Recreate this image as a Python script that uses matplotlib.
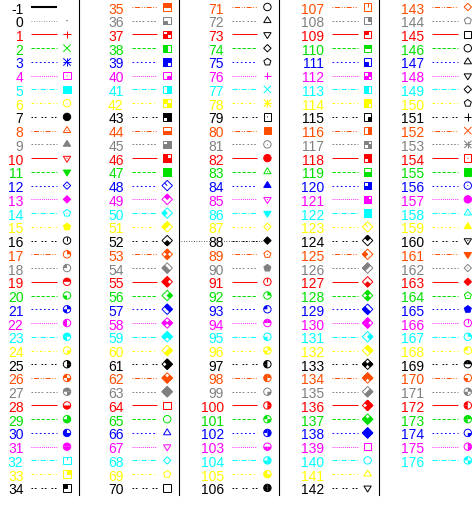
import numpy as np
import matplotlib.pyplot as plt
from matplotlib.patches import Polygon, Circle, Wedge, Rectangle

plt.rcParams['font.family'] = ['Liberation Sans', 'DejaVu Sans']
plt.rcParams['lines.scale_dashes'] = False

# linetypes shown on the test page, 36 per column
linetypes = list(range(-1, 177))
rows_per_col = 36
# colours and dash patterns cycle with period 9 (gnuplot postscript defaults)
line_colors = ['#ff0000', '#00e000', '#0000ff', '#ff00ff', '#00ffff',
               '#ffff00', '#000000', '#ff4d00', '#808080']
dash_patterns = [None, (4, 2), (2, 3), (1, 1.5), (6, 2, 1, 2), (3, 3, 1, 3),
                 (2, 2, 2, 6), (1, 2, 6, 2, 1, 2), (2, 2, 2, 2, 2, 2, 2, 4)]
# row whose dotted line runs back into the previous column
long_dotted_lt = 88

W, H = 477, 506
col_w = 100.2
row_h = 13.74
top = 8.0
s = 3.7          # point size (half width, px)
plw = 0.7        # point outline width
dash_u = 0.6     # dash unit, pt

fig = plt.figure(figsize=(W / 100, H / 100), dpi=100)
ax = fig.add_axes([0, 0, 1, 1])
ax.set_xlim(0, W)
ax.set_ylim(H, 0)
ax.axis('off')


def poly(x, y, pts, color, fill=False):
    xy = [(x + px, y - py) for px, py in pts]
    ax.add_patch(Polygon(xy, closed=True, fill=fill,
                         facecolor=color if fill else 'none',
                         edgecolor=color, lw=plw, joinstyle='miter'))


def seg(x, y, a, b, color):
    ax.plot([x + a[0], x + b[0]], [y - a[1], y - b[1]], color=color,
            lw=plw, solid_capstyle='butt')


def dot(x, y, color):
    ax.add_patch(Circle((x, y), 0.55, color=color, lw=0))


def rot(pts, ang):
    c, sn = np.cos(np.radians(ang)), np.sin(np.radians(ang))
    return [(px * c - py * sn, px * sn + py * c) for px, py in pts]


box = [(-s, -s), (s, -s), (s, s), (-s, s)]
tri_up = [(0, 1.12 * s), (-s, -0.5 * s), (s, -0.5 * s)]
tri_dn = [(0, -1.12 * s), (-s, 0.5 * s), (s, 0.5 * s)]
dia = [(-s, 0), (0, s), (s, 0), (0, -s)]
pent = [(s * np.sin(np.radians(a)), s * np.cos(np.radians(a))) for a in range(0, 360, 72)]
quads = {1: [(0, 0), (s, 0), (s, s), (0, s)],
         2: [(0, 0), (-s, 0), (-s, s), (0, s)],
         4: [(0, 0), (-s, 0), (-s, -s), (0, -s)],
         8: [(0, 0), (s, 0), (s, -s), (0, -s)]}
quad_ang = {1: (0, 90), 2: (90, 180), 4: (180, 270), 8: (270, 360)}


def circle(x, y, color, fill=False):
    ax.add_patch(Circle((x, y), s, fill=fill, facecolor=color if fill else 'none',
                        edgecolor=color, lw=plw))


def draw_point(x, y, q, color):
    if q == 0:
        dot(x, y, color)
    elif q in (1, 3):
        seg(x, y, (-s, 0), (s, 0), color)
        seg(x, y, (0, -s), (0, s), color)
    if q in (2, 3):
        seg(x, y, (-s, -s), (s, s), color)
        seg(x, y, (-s, s), (s, -s), color)
    if 4 <= q <= 15:
        k = (q - 4) // 2
        filled = (q - 4) % 2 == 1
        if k == 1:
            circle(x, y, color, filled)
        else:
            shape = [box, None, tri_up, tri_dn, dia, pent][k]
            poly(x, y, shape, color, filled)
        if not filled:
            dot(x, y, color)
    elif 16 <= q <= 31:
        bits = q - 16
        for b, (a1, a2) in quad_ang.items():
            if bits & b:
                ax.add_patch(Wedge((x, y), s, -a2, -a1, color=color, lw=0))
        circle(x, y, color)
        if bits == 0:
            seg(x, y, (0, 0), (0, s), color)
    elif 32 <= q <= 63:
        bits = (q - 32) % 16
        ang = 45 if q >= 48 else 0
        for b, pts in quads.items():
            if bits & b:
                poly(x, y, rot(pts, ang), color, True)
        poly(x, y, rot(box, ang), color)
        if bits == 0:
            seg(x, y, (0, 0), rot([(0, s)], ang)[0], color)
    elif 64 <= q <= 75:
        c = color if q < 70 else '#000000'
        k = (q - 64) % 6
        if k == 1:
            circle(x, y, c)
        else:
            poly(x, y, [box, None, tri_up, tri_dn, dia, pent][k], c)


for i, lt in enumerate(linetypes):
    col, row = divmod(i, rows_per_col)
    x0 = col * col_w
    y = top + row * row_h
    if lt == -1:
        color, lw, dashes = '#000000', 1.5, None
    elif lt == 0:
        color, lw, dashes = '#000000', 0.5, (1, 2)
    else:
        color = line_colors[(lt - 1) % 9]
        lw, dashes = 0.7, dash_patterns[(lt - 1) % 9]
    txt_color = '#000000' if lt <= 0 else color
    ax.text(x0 + 23.5, y, str(lt), ha='right', va='center_baseline',
            fontsize=10, color=txt_color)
    kw = dict(color='#606060' if lt == 0 else color, lw=lw, solid_capstyle='butt')
    if dashes is not None:
        kw['dashes'] = [d * dash_u for d in dashes]
    ax.plot([x0 + 31.5, x0 + 57], [y, y], **kw)
    if lt >= 0:
        q = 0 if lt == 0 else (lt - 1) % 75 + 1
        draw_point(x0 + 67, y, q, color)
    if lt == long_dotted_lt:
        ax.plot([x0 - col_w + 81, x0 + 63], [y, y], color='#000000', lw=0.5,
                dashes=[1 * dash_u, 2 * dash_u])

n_cols = int(np.ceil(len(linetypes) / rows_per_col))
for c in range(n_cols - 1):
    xs = 78.7 + c * col_w
    ax.plot([xs, xs], [0, 496], color='#000000', lw=0.8)

fig.savefig('out.png', dpi=100)
